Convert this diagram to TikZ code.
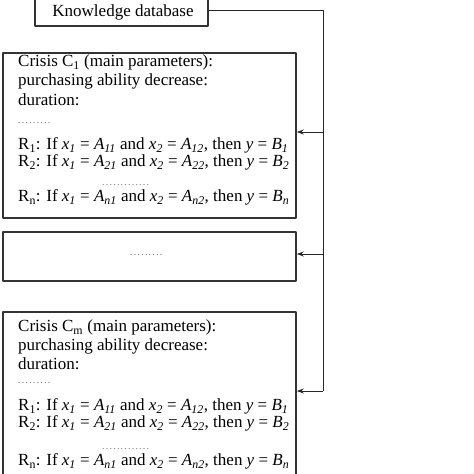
\documentclass[tikz,border=0pt]{standalone}
\usepackage{fontspec}
\setmainfont{Liberation Serif}
\usetikzlibrary{arrows.meta}
\newcommand{\sbs}[1]{\textsubscript{#1}}
\newcommand{\rline}[4]{R\sbs{#1}: If \textit{x\sbs{1}} = \textit{A\sbs{#2}} and \textit{x\sbs{2}} = \textit{A\sbs{#3}}, then \textit{y} = \textit{B\sbs{#4}}}
\newcommand{\fewdots}[1]{{\fontsize{10}{10}\selectfont\color{black!55}\foreach \i in {1,...,#1}{.\kern1.2pt}}}
\begin{document}
\begin{tikzpicture}[x=1pt,y=-1pt,font=\fontsize{17}{20}\selectfont,line join=round,>={Stealth[length=7pt,width=5pt]}]
	\tikzset{box/.style={draw=black!80,line width=1.6pt,inner sep=0pt},
		txt/.style={anchor=west,inner sep=0pt,text height=0.7em,text depth=0.2em},
		dots/.style={anchor=base west,inner sep=0pt},
		wire/.style={draw=black!85,line width=1pt}}
	\useasboundingbox (0,0) rectangle (474,474);
	\clip (0,0) rectangle (474,474);
	% boxes
	\node[box,minimum width=173pt,minimum height=32pt] (kb) at (121.5,10) {};
	\node[inner sep=0pt] (kbtext) at (123,12) {Knowledge database};
	\node[box,minimum width=293pt,minimum height=165pt] (crisisA) at (149.5,135.5) {};
	\node[box,minimum width=293pt,minimum height=49pt] (gap) at (149.5,256.5) {};
	\node[box,minimum width=293pt,minimum height=200pt] (crisisM) at (149.5,412) {};
	% crisis 1
	\node[txt] (a1) at (18,64) {Crisis C\sbs{1} (main parameters):};
	\node[txt] (a2) at (18,83) {purchasing ability decrease:};
	\node[txt] (a3) at (18,103) {duration:};
	\node[dots] (a4) at (18,123) {\fewdots{9}};
	\node[txt] (a5) at (18,147) {\rline{1}{11}{12}{1}};
	\node[txt] (a6) at (18,164) {\rline{2}{21}{22}{2}};
	\node[dots] (a7) at (102,185) {\fewdots{13}};
	\node[txt] (a8) at (18,199) {\rline{n}{n1}{n2}{n}};
	% gap
	\node[dots] (g1) at (130,255) {\fewdots{9}};
	% crisis m
	\node[txt] (m1) at (18,329) {Crisis C\sbs{m} (main parameters):};
	\node[txt] (m2) at (18,348) {purchasing ability decrease:};
	\node[txt] (m3) at (18,367) {duration:};
	\node[dots] (m4) at (18,383) {\fewdots{9}};
	\node[txt] (m5) at (18,408) {\rline{1}{11}{12}{1}};
	\node[txt] (m6) at (18,425) {\rline{2}{21}{22}{2}};
	\node[dots] (m7) at (102,449) {\fewdots{13}};
	\node[txt] (m8) at (18,463) {\rline{n}{n1}{n2}{n}};
	% links
	\coordinate (t1) at (323,132);
	\coordinate (t2) at (323,254);
	\coordinate (t3) at (323,391);
	\draw[wire] (kb.east) -| (t3);
	\draw[wire,->] (t1) -- (t1 -| crisisA.east);
	\draw[wire,->] (t2) -- (t2 -| gap.east);
	\draw[wire,->] (t3) -- (t3 -| crisisM.east);
\end{tikzpicture}
\end{document}
